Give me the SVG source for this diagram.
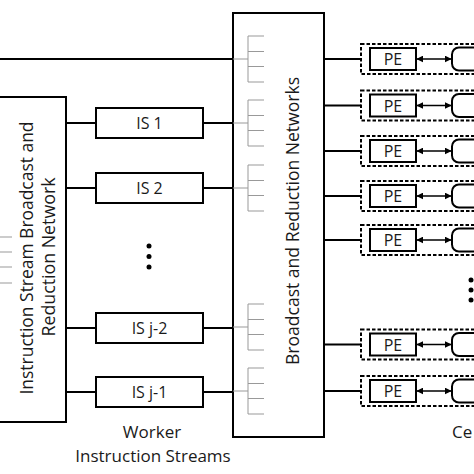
<svg xmlns="http://www.w3.org/2000/svg" width="474" height="474" viewBox="0 0 474 474">
<style>
.box{fill:#fff;stroke:#000;stroke-width:2}
.wire{fill:none;stroke:#000;stroke-width:2}
.tree{fill:none;stroke:#999;stroke-width:1}
.dash{fill:none;stroke:#000;stroke-width:2;stroke-dasharray:3.5 2}
.arr{fill:none;stroke:#000;stroke-width:1.5}
text{font-family:"Open Sans","DejaVu Sans",sans-serif;fill:#1a1a1a}
.lbl{font-size:16px;text-anchor:middle}
.big{font-size:19px;text-anchor:middle}
</style>
<defs>
<marker id="ah" viewBox="0 0 10 10" refX="9" refY="5" markerWidth="7" markerHeight="7" markerUnits="userSpaceOnUse" orient="auto-start-reverse">
<path d="M0,0 L10,5 L0,10 Z" fill="#000"/>
</marker>
<g id="tree4">
<path class="tree" d="M0,0 H15 M15,-23 V23 M15,-23 H31 M15,-7.5 H31 M15,7.5 H31 M15,23 H31"/>
</g>
</defs>

<g id="connectors">
<path class="wire" d="M0,59 H233"/>
<path class="wire" d="M66,123 H96 M203,123 H233"/>
<path class="wire" d="M66,188 H96 M203,188 H233"/>
<path class="wire" d="M66,328 H96 M203,328 H233"/>
<path class="wire" d="M66,392 H96 M203,392 H233"/>
<path class="wire" d="M324,59 H361 M324,105.5 H361 M324,151 H361 M324,196 H361 M324,240 H361 M324,344.5 H361 M324,391 H361"/>
</g>

<g id="isbrn">
<rect class="box" x="-10" y="97" width="76" height="325"/>
<path class="tree" d="M0,237 H12 M0,252 H12 M0,267 H12 M0,283 H12"/>
<text class="big" transform="translate(33,258) rotate(-90)" textLength="273" lengthAdjust="spacingAndGlyphs">Instruction Stream Broadcast and</text>
<text class="big" transform="translate(55,257) rotate(-90)" textLength="159" lengthAdjust="spacingAndGlyphs">Reduction Network</text>
</g>

<g id="is1"><rect class="box" x="96" y="108" width="107" height="30"/><text class="lbl" x="149.5" y="129">IS 1</text></g>
<g id="is2"><rect class="box" x="96" y="173" width="107" height="30"/><text class="lbl" x="149.5" y="194">IS 2</text></g>
<g id="isdots" fill="#000"><circle cx="149" cy="246" r="2.5"/><circle cx="149" cy="256.5" r="2.5"/><circle cx="149" cy="267" r="2.5"/></g>
<g id="isj2"><rect class="box" x="96" y="313" width="107" height="30"/><text class="lbl" x="149.5" y="334">IS j-2</text></g>
<g id="isj1"><rect class="box" x="96" y="377" width="107" height="30"/><text class="lbl" x="149.5" y="398">IS j-1</text></g>

<g id="brn">
<rect class="box" x="233" y="13" width="91" height="424"/>
<use href="#tree4" x="233" y="59"/>
<use href="#tree4" x="233" y="123"/>
<use href="#tree4" x="233" y="188"/>
<use href="#tree4" x="233" y="327"/>
<use href="#tree4" x="233" y="391"/>
<text class="big" transform="translate(299,221) rotate(-90)" textLength="288" lengthAdjust="spacingAndGlyphs">Broadcast and Reduction Networks</text>
</g>

<g id="cell1"><rect class="dash" x="361" y="44" width="130" height="30"/><rect class="box" x="370" y="48" width="46" height="22"/><text class="lbl" x="393" y="65">PE</text><line class="arr" x1="417" y1="59" x2="451" y2="59" marker-start="url(#ah)" marker-end="url(#ah)"/><rect class="box" x="452" y="47.5" width="40" height="23" rx="7"/></g>
<g id="cell2"><rect class="dash" x="361" y="90.5" width="130" height="30"/><rect class="box" x="370" y="94.5" width="46" height="22"/><text class="lbl" x="393" y="111.5">PE</text><line class="arr" x1="417" y1="105.5" x2="451" y2="105.5" marker-start="url(#ah)" marker-end="url(#ah)"/><rect class="box" x="452" y="94" width="40" height="23" rx="7"/></g>
<g id="cell3"><rect class="dash" x="361" y="136" width="130" height="30"/><rect class="box" x="370" y="140" width="46" height="22"/><text class="lbl" x="393" y="157">PE</text><line class="arr" x1="417" y1="151" x2="451" y2="151" marker-start="url(#ah)" marker-end="url(#ah)"/><rect class="box" x="452" y="139.5" width="40" height="23" rx="7"/></g>
<g id="cell4"><rect class="dash" x="361" y="181" width="130" height="30"/><rect class="box" x="370" y="185" width="46" height="22"/><text class="lbl" x="393" y="202">PE</text><line class="arr" x1="417" y1="196" x2="451" y2="196" marker-start="url(#ah)" marker-end="url(#ah)"/><rect class="box" x="452" y="184.5" width="40" height="23" rx="7"/></g>
<g id="cell5"><rect class="dash" x="361" y="225" width="130" height="30"/><rect class="box" x="370" y="229" width="46" height="22"/><text class="lbl" x="393" y="246">PE</text><line class="arr" x1="417" y1="240" x2="451" y2="240" marker-start="url(#ah)" marker-end="url(#ah)"/><rect class="box" x="452" y="228.5" width="40" height="23" rx="7"/></g>
<g id="celldots" fill="#000"><circle cx="471" cy="280" r="2.5"/><circle cx="471" cy="290" r="2.5"/><circle cx="471" cy="300" r="2.5"/></g>
<g id="cell6"><rect class="dash" x="361" y="329.5" width="130" height="30"/><rect class="box" x="370" y="333.5" width="46" height="22"/><text class="lbl" x="393" y="350.5">PE</text><line class="arr" x1="417" y1="344.5" x2="451" y2="344.5" marker-start="url(#ah)" marker-end="url(#ah)"/><rect class="box" x="452" y="333" width="40" height="23" rx="7"/></g>
<g id="cell7"><rect class="dash" x="361" y="376" width="130" height="30"/><rect class="box" x="370" y="380" width="46" height="22"/><text class="lbl" x="393" y="397">PE</text><line class="arr" x1="417" y1="391" x2="451" y2="391" marker-start="url(#ah)" marker-end="url(#ah)"/><rect class="box" x="452" y="379.5" width="40" height="23" rx="7"/></g>

<g id="labels">
<text class="lbl" style="font-size:17px" x="152" y="438">Worker</text>
<text class="lbl" style="font-size:17px" x="153" y="462">Instruction Streams</text>
<text style="font-size:17px" x="452" y="438">Ce</text>
</g>
</svg>
